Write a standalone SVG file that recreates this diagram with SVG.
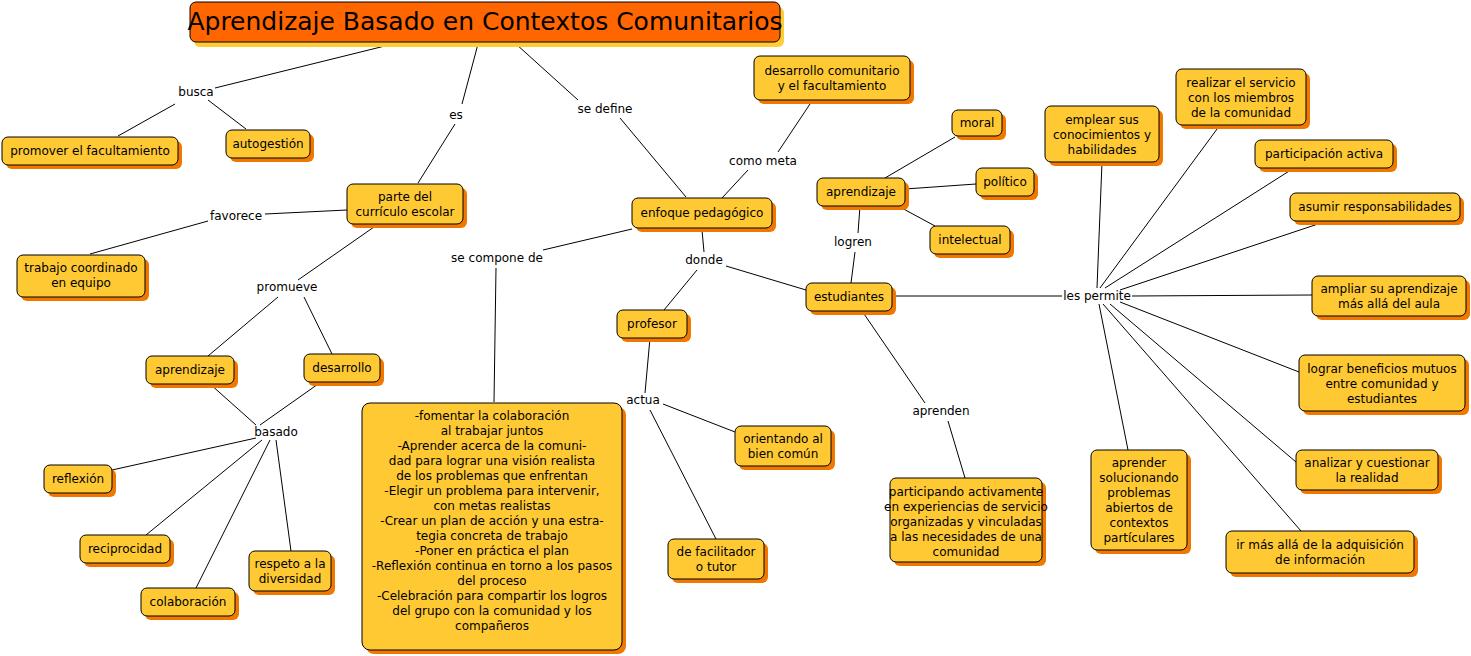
<svg xmlns="http://www.w3.org/2000/svg" width="1471" height="656" viewBox="0 0 1471 656">
<style>
text{font-family:"DejaVu Sans",Verdana,sans-serif;font-size:12px;fill:#000;text-anchor:middle}
.n rect.b{fill:#FFC933;stroke:#000;stroke-width:1}
.n rect.s{fill:#F07800}
#title rect.b{fill:#FF6600}
#title rect.s{fill:#FFCC33}
#c line{stroke:#000;stroke-width:1}
.l{font-size:12px}
</style>
<rect width="1471" height="656" fill="#fff"/>
<g id="c">
<line x1="215" y1="88" x2="397" y2="43"/><line x1="175" y1="104" x2="118" y2="136"/><line x1="208" y1="100" x2="246" y2="129"/>
<line x1="478" y1="44" x2="462" y2="104"/><line x1="455" y1="124" x2="418" y2="183"/>
<line x1="516" y1="44" x2="578" y2="100"/><line x1="620" y1="118" x2="686" y2="197"/>
<line x1="347" y1="210" x2="265" y2="214"/><line x1="208" y1="221" x2="90" y2="254"/>
<line x1="374" y1="227" x2="298" y2="280"/><line x1="278" y1="297" x2="208" y2="356"/><line x1="304" y1="297" x2="332" y2="354"/>
<line x1="210" y1="384" x2="256" y2="425"/><line x1="321" y1="382" x2="260" y2="425"/>
<line x1="256" y1="438" x2="112" y2="470"/><line x1="262" y1="440" x2="146" y2="535"/><line x1="270" y1="440" x2="196" y2="588"/><line x1="276" y1="440" x2="291" y2="551"/>
<line x1="632" y1="229" x2="543" y2="250"/><line x1="496" y1="268" x2="494" y2="402"/>
<line x1="722" y1="198" x2="748" y2="170"/><line x1="778" y1="152" x2="812" y2="101"/>
<line x1="702" y1="230" x2="704" y2="252"/><line x1="697" y1="270" x2="664" y2="310"/><line x1="726" y1="266" x2="806" y2="290"/>
<line x1="650" y1="338" x2="645" y2="393"/><line x1="663" y1="404" x2="735" y2="432"/><line x1="650" y1="410" x2="716" y2="539"/>
<line x1="851" y1="283" x2="855" y2="252"/><line x1="858" y1="233" x2="860" y2="206"/>
<line x1="885" y1="178" x2="955" y2="137"/><line x1="905" y1="189" x2="976" y2="184"/><line x1="898" y1="206" x2="935" y2="226"/>
<line x1="892" y1="296" x2="1062" y2="296"/>
<line x1="862" y1="311" x2="925" y2="403"/><line x1="948" y1="421" x2="965" y2="478"/>
<line x1="1097" y1="288" x2="1102" y2="162"/><line x1="1100" y1="288" x2="1220" y2="125"/><line x1="1105" y1="288" x2="1294" y2="168"/>
<line x1="1120" y1="290" x2="1324" y2="222"/><line x1="1132" y1="296" x2="1312" y2="295"/><line x1="1120" y1="302" x2="1299" y2="372"/>
<line x1="1110" y1="304" x2="1296" y2="462"/><line x1="1103" y1="304" x2="1301" y2="531"/><line x1="1099" y1="304" x2="1128" y2="450"/>
</g>
<g id="labels" class="l">
<text x="196" y="96">busca</text><text x="456" y="119">es</text><text x="605" y="113">se define</text>
<text x="236" y="220">favorece</text><text x="287" y="291">promueve</text><text x="276" y="436">basado</text>
<text x="497" y="262">se compone de</text><text x="763" y="165">como meta</text><text x="704" y="264">donde</text>
<text x="643" y="404">actua</text><text x="853" y="246">logren</text><text x="941" y="415">aprenden</text><text x="1097" y="300">les permite</text>
</g>
<g id="title" class="n"><rect class="s" x="194" y="7" width="590" height="40" rx="6"/><rect class="b" x="190" y="2" width="590" height="40" rx="6"/><text x="485" y="30" style="font-size:25px">Aprendizaje Basado en Contextos Comunitarios</text></g>
<g id="n1" class="n"><rect class="s" x="6" y="141" width="176" height="28" rx="6"/><rect class="b" x="2" y="137" width="176" height="28" rx="6"/><text x="90" y="155">promover el facultamiento</text></g>
<g id="n2" class="n"><rect class="s" x="230" y="134" width="84" height="28" rx="6"/><rect class="b" x="226" y="130" width="84" height="28" rx="6"/><text x="268" y="148">autogestión</text></g>
<g id="n3" class="n"><rect class="s" x="351" y="188" width="116" height="40" rx="6"/><rect class="b" x="347" y="184" width="116" height="40" rx="6"/><text x="405" y="201">parte del</text><text x="405" y="216">currículo escolar</text></g>
<g id="n4" class="n"><rect class="s" x="21" y="259" width="128" height="42" rx="6"/><rect class="b" x="17" y="255" width="128" height="42" rx="6"/><text x="81" y="272">trabajo coordinado</text><text x="81" y="287">en equipo</text></g>
<g id="n5" class="n"><rect class="s" x="150" y="360" width="88" height="28" rx="6"/><rect class="b" x="146" y="356" width="88" height="28" rx="6"/><text x="190" y="374">aprendizaje</text></g>
<g id="n6" class="n"><rect class="s" x="308" y="358" width="76" height="28" rx="6"/><rect class="b" x="304" y="354" width="76" height="28" rx="6"/><text x="342" y="372">desarrollo</text></g>
<g id="n7" class="n"><rect class="s" x="48" y="469" width="68" height="28" rx="6"/><rect class="b" x="44" y="465" width="68" height="28" rx="6"/><text x="78" y="483">reflexión</text></g>
<g id="n8" class="n"><rect class="s" x="84" y="539" width="90" height="28" rx="6"/><rect class="b" x="80" y="535" width="90" height="28" rx="6"/><text x="125" y="553">reciprocidad</text></g>
<g id="n9" class="n"><rect class="s" x="253" y="555" width="82" height="40" rx="6"/><rect class="b" x="249" y="551" width="82" height="40" rx="6"/><text x="290" y="568">respeto a la</text><text x="290" y="583">diversidad</text></g>
<g id="n10" class="n"><rect class="s" x="145" y="592" width="94" height="28" rx="6"/><rect class="b" x="141" y="588" width="94" height="28" rx="6"/><text x="188" y="606">colaboración</text></g>
<g id="n11" class="n"><rect class="s" x="366" y="407" width="260" height="247" rx="8"/><rect class="b" x="362" y="403" width="260" height="247" rx="8"/>
<text x="492" y="420">-fomentar la colaboración</text><text x="492" y="435">al  trabajar juntos</text><text x="492" y="450">-Aprender acerca de la comuni-</text><text x="492" y="465">dad para lograr una visión realista</text><text x="492" y="480">de los problemas que enfrentan</text><text x="492" y="495">-Elegir un problema para intervenir,</text><text x="492" y="510">con metas realistas</text><text x="492" y="525">-Crear un plan de acción y una estra-</text><text x="492" y="540">tegia concreta de trabajo</text><text x="492" y="555">-Poner en práctica el plan</text><text x="492" y="570">-Reflexión continua en torno a los pasos</text><text x="492" y="585">del proceso</text><text x="492" y="600">-Celebración para compartir los logros</text><text x="492" y="615">del grupo con la comunidad y los</text><text x="492" y="630">compañeros</text></g>
<g id="n12" class="n"><rect class="s" x="758" y="60" width="156" height="44" rx="6"/><rect class="b" x="754" y="56" width="156" height="44" rx="6"/><text x="832" y="75">desarrollo comunitario</text><text x="832" y="90">y el facultamiento</text></g>
<g id="n13" class="n"><rect class="s" x="636" y="202" width="140" height="30" rx="6"/><rect class="b" x="632" y="198" width="140" height="30" rx="6"/><text x="702" y="217">enfoque pedagógico</text></g>
<g id="n14" class="n"><rect class="s" x="621" y="314" width="70" height="28" rx="6"/><rect class="b" x="617" y="310" width="70" height="28" rx="6"/><text x="652" y="328">profesor</text></g>
<g id="n15" class="n"><rect class="s" x="739" y="430" width="96" height="40" rx="6"/><rect class="b" x="735" y="426" width="96" height="40" rx="6"/><text x="783" y="443">orientando al</text><text x="783" y="458">bien común</text></g>
<g id="n16" class="n"><rect class="s" x="672" y="543" width="96" height="40" rx="6"/><rect class="b" x="668" y="539" width="96" height="40" rx="6"/><text x="716" y="556">de facilitador</text><text x="716" y="571">o tutor</text></g>
<g id="n17" class="n"><rect class="s" x="956" y="114" width="50" height="26" rx="6"/><rect class="b" x="952" y="110" width="50" height="26" rx="6"/><text x="977" y="127">moral</text></g>
<g id="n18" class="n"><rect class="s" x="821" y="182" width="88" height="28" rx="6"/><rect class="b" x="817" y="178" width="88" height="28" rx="6"/><text x="861" y="196">aprendizaje</text></g>
<g id="n19" class="n"><rect class="s" x="980" y="172" width="58" height="28" rx="6"/><rect class="b" x="976" y="168" width="58" height="28" rx="6"/><text x="1005" y="186">político</text></g>
<g id="n20" class="n"><rect class="s" x="934" y="230" width="80" height="28" rx="6"/><rect class="b" x="930" y="226" width="80" height="28" rx="6"/><text x="970" y="244">intelectual</text></g>
<g id="n21" class="n"><rect class="s" x="810" y="287" width="86" height="28" rx="6"/><rect class="b" x="806" y="283" width="86" height="28" rx="6"/><text x="849" y="301">estudiantes</text></g>
<g id="n22" class="n"><rect class="s" x="894" y="482" width="152" height="84" rx="6"/><rect class="b" x="890" y="478" width="152" height="84" rx="6"/><text x="966" y="496">participando activamente</text><text x="966" y="511">en experiencias de servicio</text><text x="966" y="526">organizadas y vinculadas</text><text x="966" y="541">a las necesidades de una</text><text x="966" y="556">comunidad</text></g>
<g id="n23" class="n"><rect class="s" x="1049" y="110" width="114" height="56" rx="6"/><rect class="b" x="1045" y="106" width="114" height="56" rx="6"/><text x="1102" y="124">emplear sus</text><text x="1102" y="139">conocimientos y</text><text x="1102" y="154">habilidades</text></g>
<g id="n24" class="n"><rect class="s" x="1180" y="73" width="130" height="56" rx="6"/><rect class="b" x="1176" y="69" width="130" height="56" rx="6"/><text x="1241" y="87">realizar el servicio</text><text x="1241" y="102">con los miembros</text><text x="1241" y="117">de la comunidad</text></g>
<g id="n25" class="n"><rect class="s" x="1259" y="144" width="138" height="28" rx="6"/><rect class="b" x="1255" y="140" width="138" height="28" rx="6"/><text x="1324" y="158">participación activa</text></g>
<g id="n26" class="n"><rect class="s" x="1294" y="197" width="170" height="28" rx="6"/><rect class="b" x="1290" y="193" width="170" height="28" rx="6"/><text x="1375" y="211">asumir responsabilidades</text></g>
<g id="n27" class="n"><rect class="s" x="1316" y="280" width="154" height="40" rx="6"/><rect class="b" x="1312" y="276" width="154" height="40" rx="6"/><text x="1389" y="293">ampliar su aprendizaje</text><text x="1389" y="308">más allá del aula</text></g>
<g id="n28" class="n"><rect class="s" x="1303" y="359" width="166" height="56" rx="6"/><rect class="b" x="1299" y="355" width="166" height="56" rx="6"/><text x="1382" y="373">lograr beneficios mutuos</text><text x="1382" y="388">entre comunidad y</text><text x="1382" y="403">estudiantes</text></g>
<g id="n29" class="n"><rect class="s" x="1300" y="454" width="142" height="40" rx="6"/><rect class="b" x="1296" y="450" width="142" height="40" rx="6"/><text x="1367" y="467">analizar y cuestionar</text><text x="1367" y="482">la realidad</text></g>
<g id="n30" class="n"><rect class="s" x="1095" y="454" width="96" height="100" rx="6"/><rect class="b" x="1091" y="450" width="96" height="100" rx="6"/><text x="1139" y="467">aprender</text><text x="1139" y="482">solucionando</text><text x="1139" y="497">problemas</text><text x="1139" y="512">abiertos de</text><text x="1139" y="527">contextos</text><text x="1139" y="542">partículares</text></g>
<g id="n31" class="n"><rect class="s" x="1230" y="535" width="188" height="42" rx="6"/><rect class="b" x="1226" y="531" width="188" height="42" rx="6"/><text x="1320" y="549">ir más allá de la adquisición</text><text x="1320" y="564">de información</text></g>
</svg>
